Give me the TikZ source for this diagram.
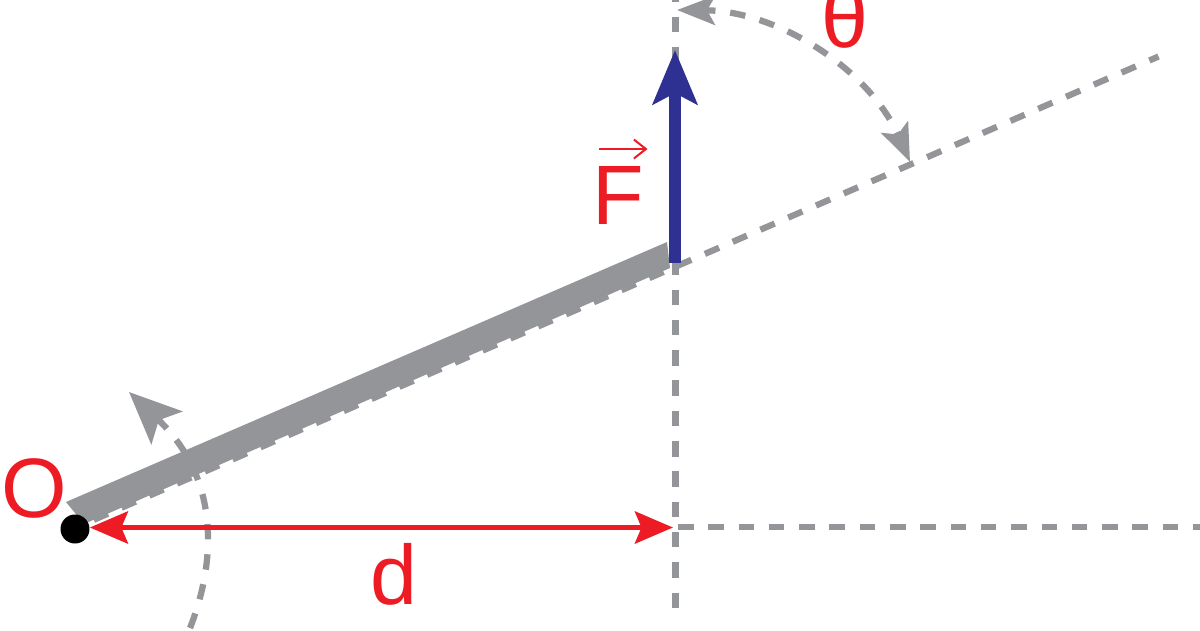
\documentclass[tikz,border=0pt]{standalone}
\usepackage{fontspec}
\setmainfont{Liberation Sans}
\usetikzlibrary{arrows.meta}
\definecolor{lgray}{HTML}{939598}
\definecolor{lred}{HTML}{ED1C24}
\definecolor{lblue}{HTML}{2E3192}
\tikzset{dashline/.style={draw=lgray,line width=1.25mm,dash pattern=on 3.1mm off 2.96mm},
	 redarrow/.style={draw=lred,line width=1.1mm,{Stealth[length=7.6mm,width=6.4mm,inset=1.3mm]}-{Stealth[length=7.6mm,width=6.4mm,inset=1.3mm]}},
	 forcearrow/.style={draw=lblue,line width=2.4mm,-{Stealth[length=10.8mm,width=8.8mm,inset=2.2mm]}},
	 vecarrow/.style={draw=lred,line width=.4mm,-{Straight Barb[length=2.4mm,width=3.8mm]}},
	 lbl/.style={text=lred,anchor=base,inner sep=0pt,font=\fontsize{48}{50}\selectfont},
	 dotnode/.style={circle,fill=black,inner sep=0pt,minimum size=5.8mm}
	 }

\begin{document}
\begin{tikzpicture}[x=0.02cm,y=-0.02cm] % lever arm of a force about O
	\useasboundingbox (0,0) rectangle (1200,630);
	\coordinate (vtop) at (675.5,0);
	\coordinate (vbot) at (675.5,608);
	\coordinate (foot) at (673,527.5);
	\coordinate (hstart) at (678,527);
	\coordinate (hend) at (1200,527);
	\coordinate (far) at (1158.5,56.5);
	\coordinate (near) at (75,528);
	\coordinate (thetaa) at (677,10);
	\coordinate (thetab) at (910,162);
	\coordinate (swing0) at (190,628);
	\coordinate (swing1) at (129,392);
	\coordinate (base) at (675,263);
	\coordinate (tip) at (675,50);
	\coordinate (vecl) at (599,149);
	\coordinate (vecr) at (647.5,149);
	\coordinate (rod1) at (66,502);
	\coordinate (rod2) at (667,242);
	\coordinate (rod3) at (670,268);
	\coordinate (rod4) at (84,524);
	\draw [dashline] (vbot) to (vtop);
	\draw [dashline] (hstart) to (hend);
	\draw [dashline,dash phase=1.1mm] (far) to (near);
	\draw [dashline,dash phase=1mm,{Stealth[length=7.6mm,width=5.8mm,inset=1.6mm]}-{Stealth[length=7.6mm,width=5.8mm,inset=1.6mm]}] (thetaa) .. controls (778,11) and (869,69) .. (thetab);
	\draw [dashline,-{Stealth[length=10.4mm,width=9mm,inset=2.2mm]}] (swing0) .. controls (215,565) and (222,480) .. (swing1);
	\fill [lgray] (rod1) -- (rod2) -- (rod3) -- (rod4) -- cycle;
	\draw [forcearrow] (base) to (tip);
	\node[dotnode] (o) at (75,529) {};
	\draw [redarrow] (o.east |- foot) to (foot);
	\draw [vecarrow] (vecl) to (vecr);
	\node[lbl] (lo) at (34,517.5) {O};
	\node[lbl] (ld) at (393.5,604) {d};
	\node[lbl] (lf) at (618.5,224.5) {F};
	\node[lbl] (lt) at (845,47) {θ};
\end{tikzpicture}
\end{document}
